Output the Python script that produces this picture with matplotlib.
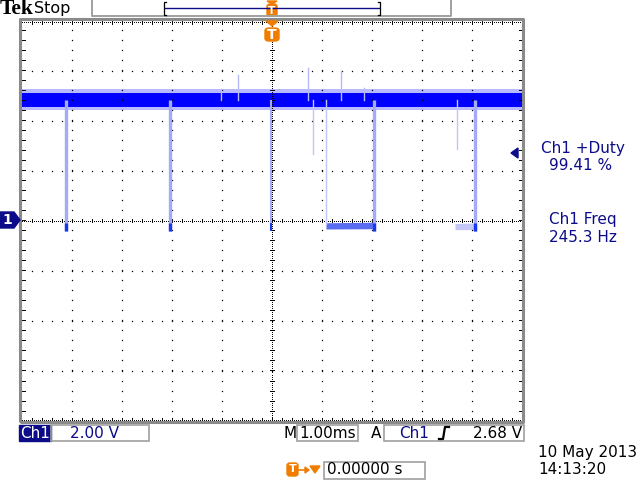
import matplotlib
matplotlib.use('Agg')
import matplotlib.pyplot as plt
import numpy as np
from matplotlib.patches import Rectangle, Polygon, FancyBboxPatch
from matplotlib.lines import Line2D

# Ch1 capture: time in ms (1.00 ms/div, trigger at 0), level in volts (2.00 V/div)
edge_times = [-4.11, -2.05, -0.03, 2.03, 4.06]
edge_widths = [2.4, 2.4, 1.5, 2.4, 2.4]
high_level = 4.83
band_inner = 0.28
band_outer = 0.42
spike_floor = -0.40
spike_knee = -0.08

glitch_down_t = [0.81, 3.70, 1.08]
glitch_down_v = [2.65, 2.85, -0.15]
glitch_up_t = [-1.02, -0.68, 0.72, 1.38, 1.84]
glitch_up_v = [5.25, 5.81, 6.09, 5.97, 5.29]

low_run_start = [1.08, 3.66]
low_run_end = [2.03, 4.06]
low_run_level = [-0.21, -0.24]
low_run_color = ['#5a6cf0', '#c4c8f6']

duty_label = 'Ch1 +Duty'
duty_value = '99.41 %'
freq_label = 'Ch1 Freq'
freq_value = '245.3 Hz'
volts_div = '2.00 V'
time_div = '1.00ms'
trig_level = '2.68 V'
trig_pos = '0.00000 s'
stamp_date = '10 May 2013'
stamp_time = '14:13:20'

NAVY = '#0c0c8a'
ORANGE = '#f07c00'
GRAY = '#a0a0a0'
TRACE = '#0000ff'
GHOST = '#a4aaf6'

fig = plt.figure(figsize=(6.4, 4.8), dpi=100)
fig.patch.set_facecolor('white')


def fx(x):
    return x / 640.0


def fy(y):
    return 1 - y / 480.0


ax = fig.add_axes([fx(22), fy(420.5), 500 / 640, 400 / 480])
ax.set_xlim(-5, 5)
ax.set_ylim(-8, 8)
ax.axis('off')

# graticule
dot = dict(ls='none', marker='s', ms=0.9, mew=0, color='k')
fine = dict(ls='none', marker='s', ms=0.7, mew=0, color='k')
for gx in np.arange(-4, 5, 1):
    if gx != 0:
        ax.plot(np.full(39, gx), np.arange(-7.6, 7.7, 0.4), **dot)
for gy in np.arange(-6, 7, 2):
    if gy != 0:
        ax.plot(np.arange(-4.8, 4.9, 0.2), np.full(49, gy), **dot)
ax.plot(np.arange(-5, 5, 0.04), np.zeros(250), **fine)
ax.plot(np.zeros(200), np.arange(-8, 8, 0.08), **fine)
for tx in np.arange(-4.8, 4.9, 0.2):
    ax.plot([tx, tx], [-0.07, 0.07], color='k', lw=0.7)
    ax.plot([tx, tx], [7.88, 8.0], color='k', lw=0.7)
    ax.plot([tx, tx], [-8.0, -7.88], color='k', lw=0.7)
for ty in np.arange(-7.6, 7.7, 0.4):
    ax.plot([-0.035, 0.035], [ty, ty], color='k', lw=0.7)
    ax.plot([-5.0, -4.94], [ty, ty], color='k', lw=0.7)
    ax.plot([4.94, 5.0], [ty, ty], color='k', lw=0.7)
ax.plot(np.arange(-5, 5, 0.04), np.full(250, 7.96), **fine)
ax.plot(np.arange(-5, 5, 0.04), np.full(250, -7.96), **fine)
ax.plot([-5.04, -5.04, 5.02, 5.02, -5.04], [-8.04, 8.06, 8.06, -8.04, -8.04],
        color='#8a8a8a', lw=2.2, clip_on=False, solid_capstyle='butt')

# trace: edge pulses and glitches behind the noisy high band
for t, w in zip(edge_times, edge_widths):
    ax.plot([t, t], [high_level, spike_floor], color=GHOST, lw=w, solid_capstyle='butt')
    ax.plot([t, t], [spike_knee, spike_floor], color='#1638f0', lw=w, solid_capstyle='butt')
for t, v in zip(glitch_down_t, glitch_down_v):
    ax.plot([t, t], [high_level, v], color='#c2c6f6', lw=1.0)
for t, v in zip(glitch_up_t, glitch_up_v):
    ax.plot([t, t], [high_level, v], color='#b6baf6', lw=1.0)
for a, b, lv, c in zip(low_run_start, low_run_end, low_run_level, low_run_color):
    ax.fill_between([a, b], [lv - 0.13, lv - 0.12], [lv + 0.12, lv + 0.14], color=c, lw=0)
ax.fill_between([-5, 5], high_level - band_outer, high_level + band_outer,
                color='#5050ff', alpha=0.4, lw=0)
ax.fill_between([-5, 5], high_level - band_inner, high_level + band_inner,
                color=TRACE, lw=0)

# trigger position marker under the top of the graticule
fig.patches.append(Polygon([[fx(266), fy(21)], [fx(278), fy(21)], [fx(272), fy(26)]],
                           closed=True, transform=fig.transFigure, color=ORANGE))
fig.patches.append(FancyBboxPatch((fx(265), fy(41)), 14 / 640, 13 / 480,
                                  boxstyle='round,pad=0,rounding_size=0.006',
                                  transform=fig.transFigure, color=ORANGE))
fig.text(fx(272), fy(35), 'T', color='white', fontsize=10, fontweight='bold',
         ha='center', va='center')

# top status bar
fig.text(fx(0), fy(9.5), 'Tek', family='Liberation Serif', fontweight='bold',
         fontsize=15.5, va='center', ha='left')
fig.text(fx(34), fy(8.5), 'Stop', fontsize=11.5, va='center', ha='left')
fig.lines.append(Line2D([fx(92), fx(92), fx(451), fx(451)], [fy(0), fy(16), fy(16), fy(0)],
                        transform=fig.transFigure, color=GRAY, lw=1.4))
fig.lines.append(Line2D([fx(166), fx(164), fx(164), fx(166)], [fy(2), fy(2), fy(15), fy(15)],
                        transform=fig.transFigure, color='k', lw=0.9))
fig.lines.append(Line2D([fx(378), fx(380), fx(380), fx(378)], [fy(2), fy(2), fy(15), fy(15)],
                        transform=fig.transFigure, color='k', lw=0.9))
fig.lines.append(Line2D([fx(165), fx(379)], [fy(8), fy(8)],
                        transform=fig.transFigure, color=NAVY, lw=1.0))
fig.patches.append(Polygon([[fx(267), fy(1)], [fx(277), fy(1)], [fx(272), fy(4)]],
                           closed=True, transform=fig.transFigure, color=ORANGE))
fig.patches.append(FancyBboxPatch((fx(267), fy(16)), 10 / 640, 12 / 480,
                                  boxstyle='round,pad=0,rounding_size=0.005',
                                  transform=fig.transFigure, color=ORANGE))
fig.text(fx(272), fy(10.5), 'T', color='white', fontsize=7.5, fontweight='bold',
         ha='center', va='center')

# channel 1 ground marker
fig.patches.append(Polygon([[fx(0), fy(212)], [fx(14), fy(212)], [fx(20), fy(220)],
                            [fx(14), fy(228)], [fx(0), fy(228)]],
                           closed=True, transform=fig.transFigure, color=NAVY))
fig.text(fx(7), fy(220), '1', color='white', fontsize=10, fontweight='bold',
         ha='center', va='center')

# measurement readouts
fig.patches.append(Polygon([[fx(511), fy(153)], [fx(518), fy(148)], [fx(518), fy(158)]],
                           closed=True, transform=fig.transFigure, color=NAVY))
fig.text(fx(583), fy(149), duty_label, color=NAVY, fontsize=11, ha='center', va='center')
fig.text(fx(581), fy(166), duty_value, color=NAVY, fontsize=11, ha='center', va='center')
fig.text(fx(583), fy(220), freq_label, color=NAVY, fontsize=11, ha='center', va='center')
fig.text(fx(583), fy(237), freq_value, color=NAVY, fontsize=11, ha='center', va='center')

# bottom status
fig.patches.append(Rectangle((fx(19), fy(441)), 32 / 640, 16 / 480,
                             transform=fig.transFigure, color=NAVY))
fig.text(fx(35), fy(433), 'Ch1', color='white', fontsize=11, ha='center', va='center')
for x0, x1, y0, y1 in [(51, 149, 425, 441), (297, 358, 425, 441),
                       (384, 524, 425, 441), (324, 425, 462, 479)]:
    fig.patches.append(Rectangle((fx(x0), fy(y1)), (x1 - x0) / 640, (y1 - y0) / 480,
                                 transform=fig.transFigure, fill=False,
                                 edgecolor=GRAY, lw=1.2))
fig.text(fx(94), fy(433), volts_div, color=NAVY, fontsize=11, ha='center', va='center')
fig.text(fx(290), fy(433), 'M', color='k', fontsize=11, ha='center', va='center')
fig.text(fx(328), fy(433), time_div, color='k', fontsize=11, ha='center', va='center')
fig.text(fx(376), fy(433), 'A', color='k', fontsize=11, ha='center', va='center')
fig.text(fx(414), fy(433), 'Ch1', color=NAVY, fontsize=11, ha='center', va='center')
fig.lines.append(Line2D([fx(439), fx(443), fx(445), fx(449)],
                        [fy(439), fy(439), fy(427), fy(427)],
                        transform=fig.transFigure, color='k', lw=1.6))
fig.text(fx(522), fy(433), trig_level, color='k', fontsize=11, ha='right', va='center')

fig.patches.append(FancyBboxPatch((fx(287), fy(476)), 11 / 640, 13 / 480,
                                  boxstyle='round,pad=0,rounding_size=0.005',
                                  transform=fig.transFigure, color=ORANGE))
fig.text(fx(292.5), fy(469.5), 'T', color='white', fontsize=8, fontweight='bold',
         ha='center', va='center')
fig.lines.append(Line2D([fx(299), fx(307)], [fy(470), fy(470)],
                        transform=fig.transFigure, color=ORANGE, lw=1.2))
fig.patches.append(Polygon([[fx(305), fy(467)], [fx(309), fy(470)], [fx(305), fy(473)]],
                           closed=True, transform=fig.transFigure, color=ORANGE))
fig.patches.append(Polygon([[fx(310), fy(466)], [fx(320), fy(466)], [fx(315), fy(473)]],
                           closed=True, transform=fig.transFigure, color=ORANGE))
fig.text(fx(327), fy(470), trig_pos, color='k', fontsize=11, ha='left', va='center')

fig.text(fx(538), fy(453), stamp_date, color='k', fontsize=11, ha='left', va='center')
fig.text(fx(538), fy(470), stamp_time, color='k', fontsize=11, ha='left', va='center')

fig.savefig('out.png', dpi=100)
